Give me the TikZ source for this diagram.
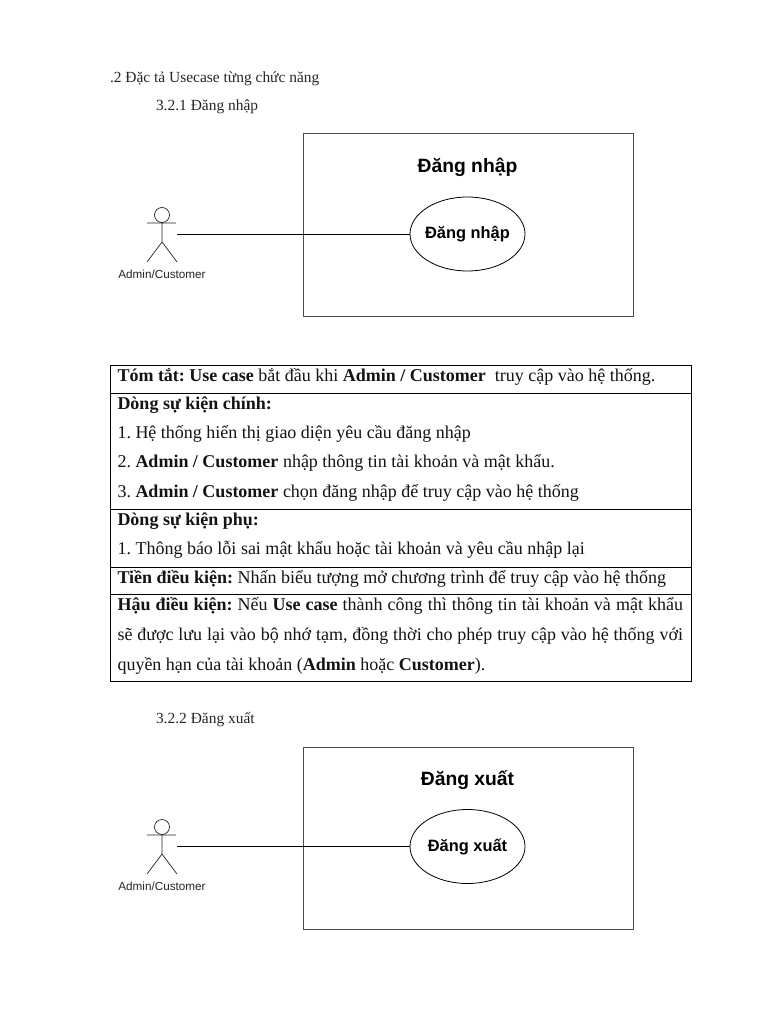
\documentclass[tikz,border=0pt]{standalone}
\usepackage{fontspec}
\setmainfont{Liberation Serif}
\setsansfont{Liberation Sans}
\usetikzlibrary{shapes.geometric}
\frenchspacing
\tikzset{
  every node/.style={inner sep=0pt,outer sep=0pt},
  heading/.style={anchor=base west,font=\frenchspacing\fontsize{15.45}{18}\selectfont,text=black!85},
  body/.style={anchor=base west,font=\frenchspacing\fontsize{18}{21}\selectfont,text=black!92},
  frame/.style={draw=black!70,line width=1pt,anchor=north west},
  uc/.style={draw=black,line width=0.8pt,ellipse,minimum width=115pt,minimum height=74pt,font=\sffamily\bfseries\fontsize{16.4}{19}\selectfont},
  boxtitle/.style={font=\sffamily\bfseries\fontsize{19.3}{22}\selectfont},
  actorlabel/.style={font=\sffamily\fontsize{11.7}{14}\selectfont,text=black!85},
  actorhead/.style={draw=black!85,line width=0.7pt,circle,minimum size=15pt},
  actorline/.style={draw=black!85,line width=0.7pt},
  assoc/.style={draw=black,line width=0.8pt},
  rule/.style={draw=black,line width=0.9pt},
}
\begin{document}
\begin{tikzpicture}[x=1pt,y=-1pt]
\useasboundingbox (0,0) rectangle (768,1024);
\fill[white] (0,0) rectangle (768,1024);
% headings
\node[heading] (h1) at (110,82.5) {.2 Đặc tả Usecase từng chức năng};
\node[heading] (h2) at (156,111) {3.2.1 Đăng nhập};
\node[heading] (h3) at (156,723) {3.2.2 Đăng xuất};
% diagram 1
\node[frame,minimum width=329.5pt,minimum height=182.5pt] (box1) at (303.5,134) {};
\node[boxtitle] (t1) at (467.5,167) {Đăng nhập};
\node[uc] (uc1) at (467.5,234) {\makebox[0pt]{Đăng nhập}};
\node[actorhead] (head1) at (162,215) {};
\coordinate (armL1) at (147,223);
\coordinate (armR1) at (176,223);
\coordinate (hip1) at (162,242);
\coordinate (legL1) at (147,262);
\coordinate (legR1) at (177,262);
\coordinate (a1) at (177,234.5);
\draw[actorline] (head1.south) -- (hip1) (armL1) -- (armR1) (legL1) -- (hip1) -- (legR1);
\node[actorlabel] (l1) at (162,274) {Admin/Customer};
\draw[assoc] (a1) -- (uc1.west |- a1);
% table
\coordinate (tl) at (110.5,365);
\coordinate (br) at (691.7,681);
\draw[rule] (tl) rectangle (br);
\coordinate (r1) at (110.5,393.5);
\coordinate (r2) at (110.5,509.5);
\coordinate (r3) at (110.5,567);
\coordinate (r4) at (110.5,594.5);
\draw[rule] (r1) -- (r1 -| br) (r2) -- (r2 -| br) (r3) -- (r3 -| br) (r4) -- (r4 -| br);
\node[body] (a) at (117.5,381) {\textbf{Tóm tắt: Use case} bắt đầu khi \textbf{Admin / Customer}\ \ truy cập vào hệ thống.};
\node[body] (b) at (117.5,409) {\textbf{Dòng sự kiện chính:}};
\node[body] (c) at (117.5,438) {1. Hệ thống hiển thị giao diện yêu cầu đăng nhập};
\node[body] (d) at (117.5,467) {2. \textbf{Admin / Customer} nhập thông tin tài khoản và mật khẩu.};
\node[body] (e) at (117.5,497) {3. \textbf{Admin / Customer} chọn đăng nhập để truy cập vào hệ thống};
\node[body] (f) at (117.5,525) {\textbf{Dòng sự kiện phụ:}};
\node[body] (g) at (117.5,554) {1. Thông báo lỗi sai mật khẩu hoặc tài khoản và yêu cầu nhập lại};
\node[body] (i) at (117.5,583) {\textbf{Tiền điều kiện:} Nhấn biểu tượng mở chương trình để truy cập vào hệ thống};
\node[body] (j) at (117.5,610) {\makebox[565.5pt][s]{\textbf{Hậu điều kiện:} Nếu \textbf{Use case} thành công thì thông tin tài khoản và mật khẩu}};
\node[body] (k) at (117.5,640) {\makebox[565.5pt][s]{sẽ được lưu lại vào bộ nhớ tạm, đồng thời cho phép truy cập vào hệ thống với}};
\node[body] (m) at (117.5,670) {quyền hạn của tài khoản (\textbf{Admin} hoặc \textbf{Customer}).};
% diagram 2
\node[frame,minimum width=329.5pt,minimum height=182pt] (box2) at (303.5,747) {};
\node[boxtitle] (t2) at (467.5,780) {Đăng xuất};
\node[uc] (uc2) at (467.5,846.5) {\makebox[0pt]{Đăng xuất}};
\node[actorhead] (head2) at (162,827) {};
\coordinate (armL2) at (147,835);
\coordinate (armR2) at (176,835);
\coordinate (hip2) at (162,854);
\coordinate (legL2) at (147,874);
\coordinate (legR2) at (177,874);
\coordinate (a2) at (177,846.7);
\draw[actorline] (head2.south) -- (hip2) (armL2) -- (armR2) (legL2) -- (hip2) -- (legR2);
\node[actorlabel] (l2) at (162,886) {Admin/Customer};
\draw[assoc] (a2) -- (uc2.west |- a2);
\end{tikzpicture}
\end{document}
